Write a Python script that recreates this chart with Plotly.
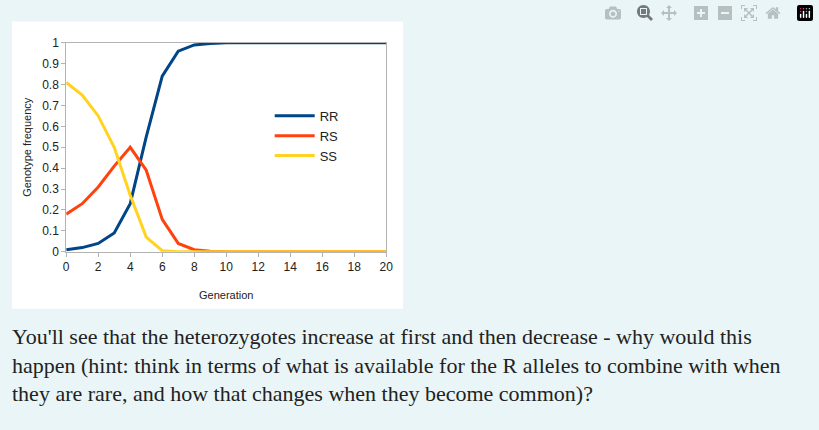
import plotly.graph_objects as go

generations = list(range(21))
rr = [0.01, 0.02, 0.04, 0.09, 0.23, 0.55, 0.84, 0.96, 0.99, 0.997, 1, 1, 1, 1, 1, 1, 1, 1, 1, 1, 1]
rs = [0.18, 0.23, 0.31, 0.41, 0.50, 0.39, 0.155, 0.04, 0.01, 0.003, 0, 0, 0, 0, 0, 0, 0, 0, 0, 0, 0]
ss = [0.81, 0.75, 0.65, 0.50, 0.27, 0.07, 0.005, 0.0, 0.0, 0, 0, 0, 0, 0, 0, 0, 0, 0, 0, 0, 0]
series = [("RR", rr, "#004586"), ("RS", rs, "#ff420e"), ("SS", ss, "#ffd320")]
xticks = list(range(0, 21, 2))
yticks = [0, 0.1, 0.2, 0.3, 0.4, 0.5, 0.6, 0.7, 0.8, 0.9, 1]
ytick_text = ["0", "0.1", "0.2", "0.3", "0.4", "0.5", "0.6", "0.7", "0.8", "0.9", "1"]
caption = ("You'll see that the heterozygotes increase at first and then decrease - why would this<br>"
           "happen (hint: think in terms of what is available for the R alleles to combine with when<br>"
           "they are rare, and how that changes when they become common)?")

W, H = 819, 430
fig = go.Figure()
for name, vals, col in series:
    fig.add_trace(go.Scatter(x=generations, y=vals, name=name, mode="lines",
                             line=dict(color=col, width=3)))

fig.update_layout(
    width=W, height=H, margin=dict(l=0, r=0, t=0, b=0),
    paper_bgcolor="#e9f5f7", plot_bgcolor="white",
    font=dict(family="Liberation Sans", size=12, color="#222"),
    xaxis=dict(domain=[64/W, 388/W], range=[0, 20], tickvals=xticks, showgrid=False,
               zeroline=False, showline=True, linecolor="#b3b3b3", mirror=True,
               ticks="outside", ticklen=4, tickcolor="#b3b3b3",
               title=dict(text="Generation", font=dict(size=11), standoff=18)),
    yaxis=dict(domain=[1-253/H, 1-37/H], range=[0, 1], tickvals=yticks, ticktext=ytick_text,
               showgrid=False, zeroline=False, showline=True, linecolor="#b3b3b3", mirror=True,
               ticks="outside", ticklen=4, tickcolor="#b3b3b3",
               title=dict(text="Genotype frequency", font=dict(size=11), standoff=8)),
    legend=dict(x=270/W, y=1-97/H, xanchor="left", yanchor="top", bgcolor="rgba(0,0,0,0)",
                font=dict(size=13), tracegroupgap=4, itemwidth=40),
    shapes=[dict(type="rect", xref="paper", yref="paper", x0=9/W, x1=405/W, y0=1-312/H, y1=1-15/H,
                 fillcolor="white", line=dict(width=0), layer="below")],
    annotations=[dict(text=caption, xref="paper", yref="paper", x=7/W, y=1-326/H,
                      xanchor="left", yanchor="top", align="left", showarrow=False,
                      font=dict(family="Liberation Serif", size=22, color="#222"))],
)
fig.write_html("out.html", post_script="document.body.style.margin='0';document.body.style.overflow='hidden';document.body.style.background='#e9f5f7';")
